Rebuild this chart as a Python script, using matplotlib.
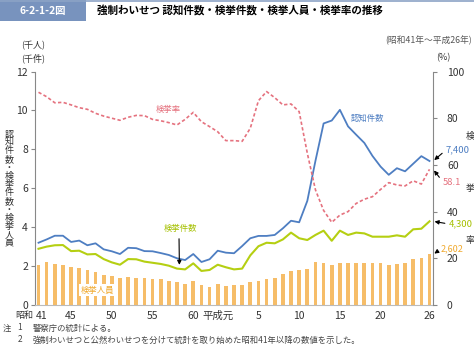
import matplotlib
matplotlib.use("Agg")
import matplotlib.pyplot as plt
from matplotlib.patches import Rectangle
from matplotlib.transforms import ScaledTranslation
import numpy as np

plt.rcParams['font.family'] = ['Noto Sans CJK JP', 'DejaVu Sans']

# ---- data (昭和41年〜平成26年) ----
years = list(range(49))  # index 0 = 昭和41, 23 = 平成元, 48 = 平成26
tick_idx = [0, 4, 9, 14, 19, 23, 27, 32, 37, 42, 48]
tick_labels = ["41", "45", "50", "55", "60", "平成元", "5", "10", "15", "20", "26"]

ninchi = [3.20, 3.37, 3.56, 3.56, 3.24, 3.31, 3.07, 3.17, 2.86, 2.76,
          2.62, 2.94, 2.92, 2.77, 2.76, 2.67, 2.57, 2.40, 2.31, 2.62,
          2.21, 2.35, 2.79, 2.69, 2.66, 3.03, 3.43, 3.55, 3.55, 3.60,
          3.94, 4.33, 4.25, 5.35, 7.41, 9.33, 9.48, 10.03, 9.18, 8.75,
          8.33, 7.66, 7.11, 6.69, 7.03, 6.87, 7.26, 7.65, 7.40]

kenkyo_ken = [2.89, 3.00, 3.07, 3.08, 2.77, 2.79, 2.60, 2.62, 2.36, 2.19,
              2.07, 2.36, 2.35, 2.23, 2.17, 2.11, 2.02, 1.87, 1.83, 2.14,
              1.75, 1.80, 2.07, 1.94, 1.83, 1.87, 2.55, 3.02, 3.20, 3.17,
              3.37, 3.72, 3.43, 3.34, 3.60, 3.82, 3.30, 3.82, 3.60, 3.72,
              3.68, 3.51, 3.51, 3.51, 3.58, 3.51, 3.89, 3.92, 4.30]

kenkyo_jin = [2.06, 2.19, 2.11, 2.07, 1.97, 1.88, 1.80, 1.71, 1.54, 1.49,
              1.37, 1.44, 1.40, 1.37, 1.34, 1.32, 1.25, 1.17, 1.08, 1.23,
              1.01, 0.94, 1.08, 0.99, 1.03, 1.01, 1.18, 1.25, 1.32, 1.37,
              1.58, 1.76, 1.80, 1.83, 2.19, 2.14, 2.06, 2.17, 2.14, 2.17,
              2.17, 2.14, 2.14, 2.06, 2.11, 2.14, 2.35, 2.40, 2.602]

kenkyo_rate = [91.1, 89.2, 86.6, 86.8, 85.7, 84.5, 83.8, 82.1, 80.9, 80.0,
               79.1, 80.4, 81.2, 81.1, 79.5, 78.9, 78.1, 77.1, 79.5, 82.5,
               78.5, 76.4, 74.2, 70.4, 70.4, 70.1, 75.7, 87.5, 91.4, 88.8,
               85.7, 86.1, 82.8, 65.0, 49.3, 40.5, 35.4, 38.5, 40.0, 43.5,
               45.3, 46.4, 49.5, 52.4, 51.4, 51.0, 53.2, 51.8, 58.1]

C_BLUE = "#4E7EC2"
C_GREEN = "#B5CF12"
C_RED = "#E5727F"
C_BAR = "#F6BD68"
C_ORANGE_TXT = "#F0A92E"
C_GRAY = "#888888"
C_TXT = "#333333"

W, H = 474, 344
fig = plt.figure(figsize=(W / 100, H / 100), dpi=100)

def fx(px):
    return px / W

def fy(py):
    return 1 - py / H

ax = fig.add_axes([fx(35), fy(305), fx(433) - fx(35), fy(71.5) - fy(305)])
ax2 = ax.twinx()

ax.bar(years, kenkyo_jin, width=0.45, color=C_BAR, zorder=2)
ax.plot(years, ninchi, color=C_BLUE, lw=1.3, zorder=3)
ax.plot(years, kenkyo_ken, color=C_GREEN, lw=1.5, zorder=3)
ax2.plot(years, kenkyo_rate, color=C_RED, lw=1.2, linestyle=(0, (2, 1.4)), zorder=3)

ax.set_xlim(-0.43, 48.43)
ax.set_ylim(0, 12)
ax2.set_ylim(0, 100)

ax.set_yticks(range(0, 13, 2))
ax2.set_yticks(range(0, 101, 20))
ax.set_xticks(tick_idx)
ax.set_xticklabels(tick_labels)

for a in (ax, ax2):
    a.spines['top'].set_visible(False)
    for s in ('left', 'right', 'bottom'):
        a.spines[s].set_color(C_GRAY)
        a.spines[s].set_linewidth(0.8)
ax.spines['right'].set_visible(False)
ax2.spines['left'].set_visible(False)
ax2.spines['bottom'].set_visible(False)
ax.spines['bottom'].set_color("#bbbbbb")

ax.tick_params(axis='y', direction='out', length=3, width=0.8, color=C_GRAY,
               labelsize=7.5, labelcolor=C_TXT, pad=2)
ax2.tick_params(axis='y', direction='out', length=3, width=0.8, color=C_GRAY,
                labelsize=7.5, labelcolor=C_TXT, pad=7)
ax.tick_params(axis='x', length=0, labelsize=7.5, labelcolor=C_TXT, pad=4)

for lab in ax.get_xticklabels():
    if lab.get_text() == "平成元":
        lab.set_transform(lab.get_transform() + ScaledTranslation(-8 / 100, 0, fig.dpi_scale_trans))
    if lab.get_text() == "41":
        lab.set_transform(lab.get_transform() + ScaledTranslation(3 / 100, 0, fig.dpi_scale_trans))
fig.text(fx(24), fy(315.5), "昭和", fontsize=6.5, color=C_TXT, ha='center', va='center')

# ---- series labels ----
fig.text(fx(168), fy(109), "検挙率", fontsize=6, color=C_RED, ha='center', va='center')
fig.text(fx(367), fy(118), "認知件数", fontsize=6, color=C_BLUE, ha='center', va='center')
fig.text(fx(180), fy(228), "検挙件数", fontsize=6, color="#A5C000", ha='center', va='center')
ax.annotate("", xy=(17.3, kenkyo_ken[17] + 0.05), xytext=(fx(179), fy(236)),
            textcoords='figure fraction',
            arrowprops=dict(arrowstyle='-|>', color='black', lw=0.8, mutation_scale=6))
fig.text(fx(97), fy(290), "検挙人員", fontsize=6, color=C_ORANGE_TXT, ha='center', va='center',
         bbox=dict(facecolor='white', edgecolor='none', pad=1.2), zorder=5)

# ---- end-value annotations ----
arrow_kw = dict(arrowstyle='-|>', color='black', lw=0.8, mutation_scale=6, shrinkA=1, shrinkB=1)
ax.annotate("7,400", xy=(48.45, ninchi[-1]), xytext=(fx(446), fy(150)),
            textcoords='figure fraction', fontsize=6.8, color=C_BLUE, va='center', ha='left',
            arrowprops=dict(relpos=(0, 0.5), **arrow_kw), annotation_clip=False)
ax2.annotate("58.1", xy=(48.45, kenkyo_rate[-1]), xytext=(fx(443), fy(182)),
             textcoords='figure fraction', fontsize=6.8, color=C_RED, va='center', ha='left',
             arrowprops=dict(relpos=(0, 0.5), **arrow_kw), annotation_clip=False)
ax.annotate("4,300", xy=(48.45, kenkyo_ken[-1]), xytext=(fx(449), fy(224)),
            textcoords='figure fraction', fontsize=6.8, color="#A5C000", va='center', ha='left',
            arrowprops=dict(relpos=(0, 0.5), **arrow_kw), annotation_clip=False)
ax.annotate("2,602", xy=(48.45, kenkyo_jin[-1]), xytext=(fx(441), fy(249)),
            textcoords='figure fraction', fontsize=6.5, color=C_ORANGE_TXT, va='center', ha='left',
            arrowprops=dict(relpos=(0, 0.5), **arrow_kw), annotation_clip=False)

# ---- axis unit labels ----
fig.text(fx(33), fy(46), "(千人)", fontsize=6.5, color=C_TXT, ha='center', va='center')
fig.text(fx(33), fy(58), "(千件)", fontsize=6.5, color=C_TXT, ha='center', va='center')
fig.text(fx(443), fy(58), "(%)", fontsize=6.5, color=C_TXT, ha='center', va='center')

left_label = "認知件数・検挙件数・検挙人員"
for i, ch in enumerate(left_label):
    fig.text(fx(9), fy(134 + i * 8.4), ch, fontsize=6.5, color=C_TXT, ha='center', va='center')
for ch, yy in zip("検挙率", [136, 189, 241]):
    fig.text(fx(470), fy(yy), ch, fontsize=6.5, color=C_TXT, ha='center', va='center')

# ---- header ----
fig.patches.append(Rectangle((0, fy(21)), fx(86), fy(0) - fy(21), transform=fig.transFigure,
                             facecolor="#7893BE", edgecolor='none'))
fig.add_artist(plt.Line2D([0, 1], [fy(1), fy(1)], transform=fig.transFigure,
                          color="#8CA3C6", lw=1.2))
fig.text(fx(43), fy(11), "6-2-1-2図", fontsize=7.5, color='white', fontweight='bold',
         ha='center', va='center')
fig.text(fx(97), fy(11), "強制わいせつ 認知件数・検挙件数・検挙人員・検挙率の推移",
         fontsize=7.6, color='black', fontweight='bold', ha='left', va='center')
fig.text(fx(472), fy(40), "(昭和41年～平成26年)", fontsize=6.3, color="#555555",
         ha='right', va='center')

# ---- notes ----
fig.text(fx(3), fy(328), "注", fontsize=6, color="#444444", ha='left', va='center')
fig.text(fx(20), fy(328), "1", fontsize=6, color="#444444", ha='center', va='center')
fig.text(fx(33), fy(328), "警察庁の統計による。", fontsize=6, color="#444444", ha='left', va='center')
fig.text(fx(20), fy(340), "2", fontsize=6, color="#444444", ha='center', va='center')
fig.text(fx(33), fy(340), "強制わいせつと公然わいせつを分けて統計を取り始めた昭和41年以降の数値を示した。",
         fontsize=6, color="#444444", ha='left', va='center')

fig.savefig("out.png", dpi=100)
